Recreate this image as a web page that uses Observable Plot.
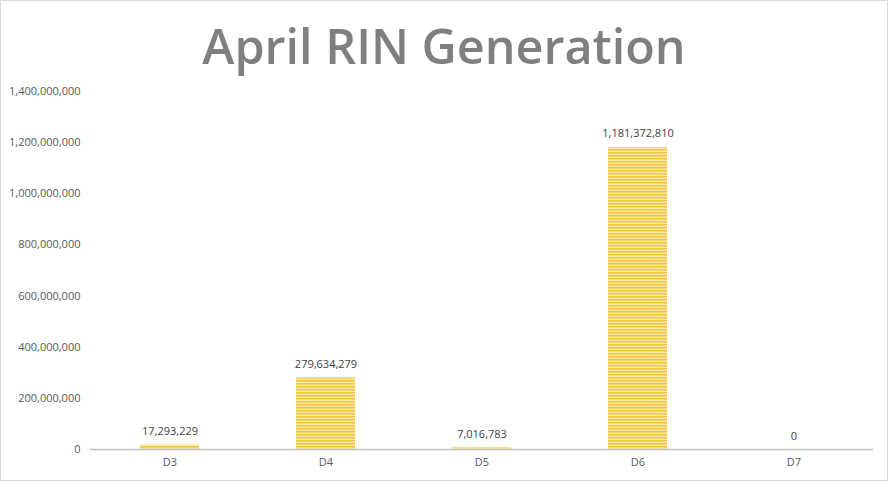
<!DOCTYPE html>
<html><head><meta charset="utf-8">
<script src="https://cdn.jsdelivr.net/npm/d3@7"></script>
<script src="https://cdn.jsdelivr.net/npm/@observablehq/plot@0.6"></script>
<style>
body{margin:0;background:#fff;}
#wrap{box-sizing:border-box;width:888px;height:481px;border:1px solid #d9d9d9;background:#fff;overflow:hidden;}
#title{height:79px;text-align:center;font-family:"Open Sans",sans-serif;font-weight:600;font-size:48.5px;color:#7f7f7f;line-height:88px;}
</style></head>
<body><div id="wrap"><div id="title">April RIN Generation</div><div id="chart"></div></div>
<script>
const categories = ["D3","D4","D5","D6","D7"];
const values = [17293229, 279634279, 7016783, 1181372810, 0];
const yTicks = [0,200000000,400000000,600000000,800000000,1000000000,1200000000,1400000000];
const data = categories.map((c,i)=>({cat:c, value:values[i]}));
const fmt = d3.format(",");
const chart = Plot.plot({
  width: 886, height: 400,
  marginTop: 11, marginBottom: 31, marginLeft: 89, marginRight: 14,
  style: {fontFamily: "'Open Sans', sans-serif", fontSize: "11px", color: "#595959", background: "#fff"},
  x: {domain: categories, paddingInner: 0.62, paddingOuter: 0.31, label: null},
  y: {domain: [0, 1400000000], ticks: yTicks, label: null, tickFormat: fmt},
  marks: [
    Plot.axisY({ticks: yTicks, tickFormat: fmt, tickSize: 0, tickPadding: 10, label: null, fill: "#595959", fontSize: 11}),
    Plot.axisX({tickSize: 0, tickPadding: 9, label: null, fill: "#595959", fontSize: 11}),
    Plot.barY(data, {x: "cat", y: "value", fill: "url(#stripes)"}),
    Plot.ruleY([0], {stroke: "#bfbfbf", strokeWidth: 1.3}),
    Plot.text(data, {x: "cat", y: "value", text: d => fmt(d.value), dy: -10, lineAnchor: "bottom", fill: "#404040", fontSize: 11})
  ]
});
const ns = "http://www.w3.org/2000/svg";
const defs = document.createElementNS(ns, "defs");
defs.innerHTML = '<pattern id="stripes" patternUnits="userSpaceOnUse" width="8" height="3"><rect width="8" height="3" fill="#fde8a0"/><rect width="8" height="1.5" fill="#f2c33a"/></pattern>';
chart.insertBefore(defs, chart.firstChild);
document.getElementById("chart").appendChild(chart);
</script>
</body></html>
